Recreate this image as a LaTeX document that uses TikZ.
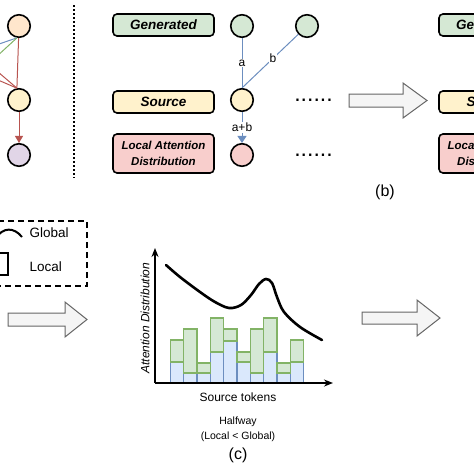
\documentclass[tikz,border=0pt]{standalone}
\usepackage{fontspec}
\setmainfont{Liberation Sans}
\usetikzlibrary{arrows.meta}

\definecolor{genfill}{HTML}{D5E8D4}
\definecolor{genline}{HTML}{82B366}
\definecolor{srcfill}{HTML}{FFF2CC}
\definecolor{locfill}{HTML}{F8CECC}
\definecolor{locline}{HTML}{B85450}
\definecolor{blufill}{HTML}{DAE8FC}
\definecolor{bluline}{HTML}{6C8EBF}
\definecolor{peach}{HTML}{FFE6CC}
\definecolor{lilac}{HTML}{E1D5E7}
\definecolor{arrfill}{HTML}{F5F5F5}
\definecolor{arrline}{HTML}{666666}

\begin{document}
\begin{tikzpicture}[x=1pt, y=-1pt,
  tok/.style={draw, shape=circle, line width=1.6pt, minimum size=22.5pt, inner sep=0pt},
  tag/.style={draw, rounded corners=4pt, line width=1.6pt, minimum width=101pt, minimum height=22pt, align=center, font=\fontsize{13.5}{15}\selectfont\bfseries\itshape},
  loctag/.style={tag, fill=locfill, minimum height=39pt, font=\fontsize{11.5}{16}\selectfont\bfseries\itshape},
  hollow/.style={draw=arrline, fill=arrfill, line width=1pt, line join=miter},
  wire/.style={line width=1pt},
  edgelab/.style={fill=white, text=black, inner sep=1pt, font=\fontsize{12}{12}\selectfont},
  bar/.style={line width=1.3pt}]

\clip (0,0) rectangle (474,474);

% left part, cut off
\node[tok, fill=peach] (p1) at (19,26) {};
\node[tok, fill=srcfill] (p2) at (19,100) {};
\node[tok, fill=lilac] (p3) at (19,155) {};
\coordinate (e1) at (-30,54);
\coordinate (e2) at (-30,81);
\coordinate (e3) at (-30,48);
\coordinate (e4) at (-30,68);

\draw[wire, bluline] (e1) to (p1.260);
\draw[wire, genline] (e2) to (p1.260);
\draw[wire, locline] (e3) to (p2.100);
\draw[wire, locline] (e4) to (p2.100);
\draw[wire, locline] (p1) to (p2.100);
\draw[wire, locline, -{Triangle[width=8pt,length=7pt]}] (p2) to (p3);

\draw[line width=1.2pt, dash pattern=on 2pt off 2pt] (74,5) -- (74,178);

% (b)
\node[tag, fill=genfill] (t1) at (163.5,25) {Generated};
\node[tag, fill=srcfill] (t2) at (163.5,102) {Source};
\node[loctag] (t3) at (163.5,153.5) {Local Attention\\Distribution};

\node[tok, fill=genfill] (g1) at (242,26) {};
\node[tok, fill=genfill] (g2) at (307,26) {};
\node[tok, fill=srcfill] (s1) at (242,100) {};
\node[tok, fill=locfill] (l1) at (242,155) {};

\draw[wire, bluline] (g1) to node[edgelab] {a} (s1);
\draw[wire, bluline] (g2) to node[edgelab, pos=0.45] {b} (s1.north);
\draw[wire, bluline, -{Triangle[width=9pt,length=7pt]}] (s1) to node[edgelab] {a+b} (l1);

\node[font=\fontsize{23}{23}\selectfont, anchor=base] (d1) at (313.5,101.5) {......};
\node[font=\fontsize{23}{23}\selectfont, anchor=base] (d2) at (313.5,156.5) {......};

\draw[hollow] (349,94) -- (403,94) -- (403,83) -- (427,100.5) -- (403,118) -- (403,107) -- (349,107) -- cycle;

\node[tag, fill=genfill] (r1) at (489.5,25) {Generated};
\node[tag, fill=srcfill] (r2) at (489.5,102) {Source};
\node[loctag] (r3) at (489.5,153.5) {Local Attention\\Distribution};

\node[font=\fontsize{16}{16}\selectfont] (capb) at (385,192) {(b)};

% (c)
\draw[line width=1.8pt, dash pattern=on 6pt off 4pt] (-20,221) rectangle (87,286);
\draw[line width=2pt] (-4,238) .. controls (3,227) and (14,227) .. (22,237);
\node[font=\fontsize{13.5}{15}\selectfont, anchor=west] (kg) at (26,233) {Global};
\draw[line width=1.8pt] (-14,253) rectangle (8,275);
\node[font=\fontsize{13.5}{15}\selectfont, anchor=west] (kl) at (26,266.5) {Local};

\draw[hollow] (8,313) -- (65,313) -- (65,302) -- (87,319.5) -- (65,337) -- (65,326) -- (8,326) -- cycle;
\draw[hollow] (362,312) -- (417,312) -- (417,300) -- (440,318) -- (417,336) -- (417,324) -- (362,324) -- cycle;

\draw[bar, draw=bluline, fill=blufill] (170.5,383) rectangle (183.8,362);
\draw[bar, draw=bluline, fill=blufill] (183.8,383) rectangle (197.1,373);
\draw[bar, draw=bluline, fill=blufill] (197.1,383) rectangle (210.4,373);
\draw[bar, draw=bluline, fill=blufill] (210.4,383) rectangle (223.7,352);
\draw[bar, draw=bluline, fill=blufill] (223.7,383) rectangle (237.0,341);
\draw[bar, draw=bluline, fill=blufill] (237.0,383) rectangle (250.3,362);
\draw[bar, draw=bluline, fill=blufill] (250.3,383) rectangle (263.6,373);
\draw[bar, draw=bluline, fill=blufill] (263.6,383) rectangle (276.9,352);
\draw[bar, draw=bluline, fill=blufill] (276.9,383) rectangle (290.2,373);
\draw[bar, draw=bluline, fill=blufill] (290.2,383) rectangle (303.5,362);

\draw[bar, draw=genline, fill=genfill] (170.5,362) rectangle (183.8,340);
\draw[bar, draw=genline, fill=genfill] (183.8,373) rectangle (197.1,329);
\draw[bar, draw=genline, fill=genfill] (197.1,373) rectangle (210.4,363);
\draw[bar, draw=genline, fill=genfill] (210.4,352) rectangle (223.7,318);
\draw[bar, draw=genline, fill=genfill] (223.7,341) rectangle (237.0,329);
\draw[bar, draw=genline, fill=genfill] (237.0,362) rectangle (250.3,352);
\draw[bar, draw=genline, fill=genfill] (250.3,373) rectangle (263.6,329);
\draw[bar, draw=genline, fill=genfill] (263.6,352) rectangle (276.9,318);
\draw[bar, draw=genline, fill=genfill] (276.9,373) rectangle (290.2,363);
\draw[bar, draw=genline, fill=genfill] (290.2,362) rectangle (303.5,340);

\coordinate (o) at (155,383);
\coordinate (ytop) at (155,248);
\coordinate (xend) at (333,383);
\draw[line width=1.6pt, -{Stealth[length=9pt,width=7pt]}] (o) -- (ytop);
\draw[line width=1.6pt, -{Stealth[length=9pt,width=7pt]}] (o) -- (xend);

\draw[line width=2.6pt, line cap=round] plot[smooth, tension=0.55] coordinates {(166,265) (180,277) (200,292) (215,302) (229,308) (241,305) (251,295) (259,284) (266,279) (272,283) (277,297) (284,312) (300,327) (322,340)};

\node[font=\fontsize{12}{12}\selectfont\itshape, rotate=90] (ylab) at (145,318) {Attention Distribution};
\node[font=\fontsize{12}{12}\selectfont] (xlab) at (238,397) {Source tokens};
\node[font=\fontsize{10.5}{15}\selectfont, align=center] (half) at (238,429) {Halfway\\(Local < Global)};
\node[font=\fontsize{16}{16}\selectfont] (capc) at (238,455) {(c)};

\end{tikzpicture}
\end{document}
